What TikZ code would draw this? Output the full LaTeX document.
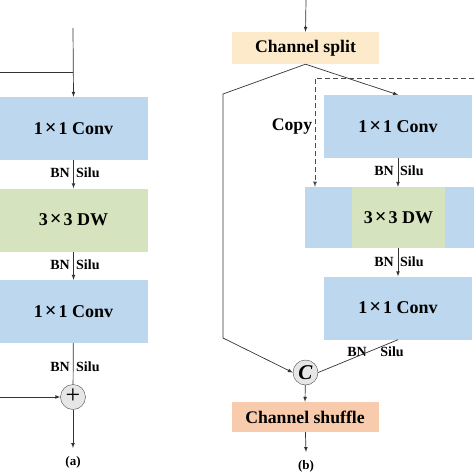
\documentclass[tikz,border=0pt]{standalone}
\usepackage{fontspec}
\setmainfont{Liberation Serif}
\usepackage{tikz}
\usetikzlibrary{arrows}

\definecolor{convblue}{HTML}{BDD7EE}
\definecolor{dwgreen}{HTML}{D5E4BE}
\definecolor{splityellow}{HTML}{FCEACA}
\definecolor{shufflered}{HTML}{F8CBAD}
\definecolor{opgray}{HTML}{E6E6E6}

\newcommand{\bytimes}{\hspace{2pt}\scalebox{1.15}{\texttimes}\hspace{2pt}}

\begin{document}
\begin{tikzpicture}
[x=1pt, y=-1pt,
>=latex,
conv/.style={rectangle, fill=convblue, minimum width=148pt, minimum height=63pt, inner sep=0pt, font=\fontsize{18}{18}\selectfont\bfseries},
dw/.style={rectangle, fill=dwgreen, minimum height=63pt, inner sep=0pt, font=\fontsize{18}{18}\selectfont\bfseries},
chan/.style={rectangle, minimum width=147pt, inner sep=0pt, font=\fontsize{17.7}{17.7}\selectfont\bfseries},
op/.style={circle, draw=black!70, fill=opgray, minimum size=25pt, inner sep=0pt},
act/.style={font=\fontsize{14}{14}\selectfont\bfseries, inner sep=1pt},
sublabel/.style={font=\fontsize{13}{13}\selectfont\bfseries, inner sep=0pt},
line/.style={draw=black!80, line width=0.7pt},
copyline/.style={draw=black!70, line width=0.8pt, dash pattern=on 5pt off 3pt}
]
\useasboundingbox (0,0) rectangle (474,474);

%Nodes (a)
\coordinate (ain) at (73,28);
\coordinate (askip) at (0,72);
\coordinate (askipin) at (0,397);
\node[conv]   (aconva)  at (73.5,128.5)  {1\bytimes1 Conv};
\node[dw, minimum width=148pt] (adw) at (73.5,220) {3\bytimes3 DW};
\node[conv]   (aconvb)  at (73.5,311.5)  {1\bytimes1 Conv};
\node[op]     (aadd)    at (73,397)      {\fontsize{26}{26}\selectfont\raisebox{1pt}{+}};
\coordinate (aout) at (73,448);
\node[sublabel] (alabel) at (73,462)     {(a)};
\node[act, anchor=east] at (71,173) {BN};
\node[act, anchor=west] at (75,173) {Silu};
\node[act, anchor=east] at (71,265) {BN};
\node[act, anchor=west] at (75,265) {Silu};
\node[act, anchor=east] at (71,367) {BN};
\node[act, anchor=west] at (75,367) {Silu};

%Nodes (b)
\coordinate (bin) at (306,0);
\node[chan, fill=splityellow, minimum height=32pt] (split) at (305.5,48) {Channel split};
\coordinate (bbend) at (223,94);
\coordinate (bdown) at (223,338);
\node[conv]   (bconva)  at (398,126.5)   {1\bytimes1 Conv};
\node[rectangle, fill=convblue, minimum width=170pt, minimum height=61pt, inner sep=0pt] (bwide) at (390,217.5) {};
\node[dw, minimum width=93pt, minimum height=61pt] (bdw) at (398.5,217.5) {3\bytimes3 DW};
\node[conv]   (bconvb)  at (398,308)     {1\bytimes1 Conv};
\coordinate (bcopyin) at (474,78);
\coordinate (bcopy) at (315,78);
\node[chan, minimum width=0pt] (copytext) at (292,127) {Copy};
\node[op]     (bcat)    at (305.5,372.5) {\fontsize{21}{21}\selectfont\textbf{\textit{C}}};
\node[chan, fill=shufflered, minimum height=30pt] (shuffle) at (305,417) {Channel shuffle};
\coordinate (bout) at (306,452);
\node[sublabel] (blabel) at (306,466)    {(b)};
\node[act, anchor=east] at (395,171) {BN};
\node[act, anchor=west] at (399,171) {Silu};
\node[act, anchor=east] at (395,262) {BN};
\node[act, anchor=west] at (399,262) {Silu};
\node[act] at (357,352) {BN};
\node[act] at (392,352) {Silu};

%Lines (a)
\draw[line, ->] (ain) -- (aconva.north);
\draw[line] (askip) -- (ain |- askip);
\draw[line, ->] (aconva) -- (adw);
\draw[line, ->] (adw) -- (aconvb);
\draw[line] (aconvb) -- (aadd);
\draw[line, ->] (askipin) -- (aadd.west);
\draw[line, ->] (aadd) -- (aout);

%Lines (b)
\draw[line, ->] (bin) -- (split.north);
\draw[line] (split.south) -- (bbend) -- (bdown);
\draw[line, ->] (bdown) -- (bcat.west);
\draw[line, ->] (split.south) -- (bconva.north);
\draw[line, ->] (bconva.south) -- (bwide.north -| bconva.south);
\draw[copyline, ->] (bcopyin) -- (bcopy) -- (bcopy |- bwide.north);
\draw[line, ->] (bwide.south -| bconvb.north) -- (bconvb.north);
\draw[line] (bconvb.south) -- (bcat.east);
\draw[line, ->] (bcat) -- (shuffle.north);
\draw[line, ->] (shuffle) -- (bout);

\end{tikzpicture}
\end{document}
